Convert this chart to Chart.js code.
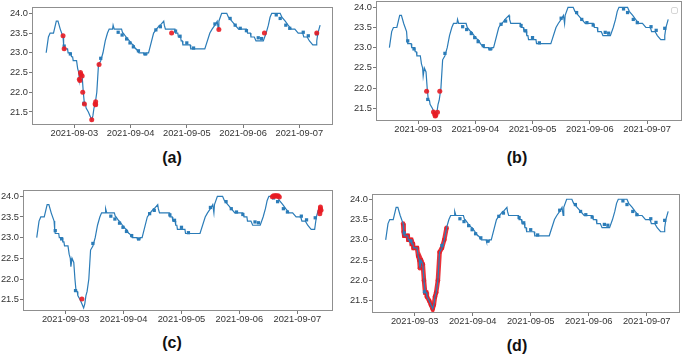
<!DOCTYPE html>
<html>
<head>
<meta charset="utf-8">
<script src="https://cdn.jsdelivr.net/npm/chart.js@4.4.1/dist/chart.umd.min.js"></script>
<style>
  body { margin: 0; background: #fff; width: 685px; height: 354px; overflow: hidden; position: relative; }
  canvas { position: absolute; }
  .cap { position: absolute; font-family: "Liberation Sans", Arial, sans-serif; font-weight: bold; font-size: 16px; color: #111; transform: translate(-50%, -50%); white-space: nowrap; }
</style>
</head>
<body>
<script>
// time in days of September 2021, temperature readings
const timeDays = [
  2.50, 2.54, 2.57, 2.63, 2.68, 2.71, 2.75, 2.80, 2.81, 2.82, 2.88, 2.89, 2.94, 2.95, 2.97, 2.98, 3.04,
  3.06, 3.08, 3.09, 3.11, 3.14, 3.16, 3.18, 3.20, 3.21, 3.25, 3.28, 3.31, 3.33, 3.35, 3.37, 3.40,
  3.43, 3.47, 3.51, 3.55, 3.59, 3.62, 3.68, 3.69, 3.71, 3.84, 3.86, 3.87, 3.92, 3.93, 3.98, 3.99,
  4.04, 4.05, 4.09, 4.10, 4.15, 4.16, 4.23, 4.24, 4.28, 4.29, 4.32, 4.41, 4.46, 4.47, 4.52, 4.53,
  4.59, 4.60, 4.62, 4.65, 4.79, 4.80, 4.84, 4.85, 4.89, 4.90, 4.92, 4.93, 5.06, 5.07, 5.32, 5.41,
  5.45, 5.50, 5.54, 5.56, 5.57, 5.62, 5.71, 5.74, 5.80, 5.86, 5.92, 6.06, 6.08, 6.13, 6.14, 6.20,
  6.23, 6.36, 6.41, 6.45, 6.48, 6.51, 6.66, 6.69, 6.75, 6.80, 6.86, 6.92, 6.98, 7.06, 7.08, 7.14,
  7.18, 7.24, 7.30, 7.31, 7.33, 7.37
];
const temperature = [
  23.0, 23.4, 23.5, 23.5, 23.8, 23.8, 23.6, 23.4, 23.2, 23.1, 23.1, 23.0, 23.0, 22.9, 22.9, 22.8, 22.8,
  22.6, 22.5, 22.3, 22.5, 22.4, 22.0, 21.7, 21.7, 21.6, 21.5, 21.4, 21.3, 21.4, 21.6, 21.7, 22.0,
  22.7, 22.8, 23.0, 23.3, 23.5, 23.6, 23.6, 23.7, 23.6, 23.6, 23.5, 23.5, 23.4, 23.4, 23.3, 23.3,
  23.2, 23.2, 23.1, 23.1, 23.0, 23.0, 23.0, 22.95, 22.95, 23.0, 23.0, 23.5, 23.6, 23.6, 23.7, 23.7,
  23.8, 23.7, 23.6, 23.6, 23.6, 23.5, 23.5, 23.4, 23.4, 23.3, 23.3, 23.2, 23.2, 23.1, 23.1, 23.5,
  23.6, 23.7, 23.8, 23.6, 23.8, 24.0, 24.0, 23.9, 23.8, 23.7, 23.6, 23.6, 23.5, 23.5, 23.4, 23.4,
  23.3, 23.3, 23.5, 23.7, 23.9, 24.0, 24.0, 23.9, 23.8, 23.7, 23.6, 23.6, 23.5, 23.5, 23.4, 23.4,
  23.3, 23.2, 23.2, 23.3, 23.5, 23.7
];
// places where the reading flickers between two levels (drawn as small blocks)
const flickerTime = [2.82, 2.93, 3.17, 3.47, 3.78, 3.85, 3.93, 3.99, 4.05, 4.14, 4.26, 4.45, 4.53,
  4.80, 4.88, 5.00, 5.12, 5.50, 5.77, 5.86, 5.95, 6.06, 6.27, 6.33, 6.59, 6.66, 6.76, 6.83, 7.07, 7.16, 7.31];
const flickerTemp = [23.17, 22.97, 21.72, 22.86, 23.52, 23.45, 23.35, 23.25, 23.15, 23.05, 22.97, 23.58, 23.66,
  23.55, 23.42, 23.25, 23.12, 23.73, 23.87, 23.70, 23.62, 23.56, 23.38, 23.36, 23.96, 23.87, 23.70, 23.62, 23.52, 23.43, 23.48];

// detected points, panel (a)
const markATime = [2.80, 2.82, 3.09, 3.10, 3.11, 3.12, 3.14, 3.15, 3.18, 3.31, 3.37, 3.38, 3.38, 3.44, 4.73, 5.57, 6.38, 7.31];
const markATemp = [23.43, 23.10, 22.33, 22.30, 22.50, 22.45, 22.41, 22.0, 21.70, 21.30, 21.70, 21.76, 21.68, 22.70, 23.50, 23.59, 23.50, 23.50];
// panel (b)
const markBTime = [3.15, 3.27, 3.29, 3.30, 3.31, 3.34, 3.38];
const markBTemp = [21.92, 21.41, 21.36, 21.31, 21.33, 21.40, 21.92];
// panel (c)
const markCTime = [3.28, 6.57, 6.59, 6.61, 6.63, 6.65, 6.67, 6.69, 7.39, 7.39, 7.40, 7.40, 7.41];
const markCTemp = [21.52, 23.99, 24.01, 24.0, 24.02, 24.0, 24.01, 23.98, 23.58, 23.64, 23.70, 23.74, 23.66];
// panel (d): a continuous stretch of the series
const segmentD = [2.79, 3.57];

const xTickValues = [3, 4, 5, 6, 7];
const xTickLabels = ["2021-09-03", "2021-09-04", "2021-09-05", "2021-09-06", "2021-09-07"];
const yTickValues = [21.5, 22.0, 22.5, 23.0, 23.5, 24.0];

const panels = [
  { cap: "(a)", frame: [32, 7, 333, 125], x: [2.248, 7.599], y: [21.17, 24.16], capPos: [172, 158], marks: [markATime, markATemp] },
  { cap: "(b)", frame: [376, 1, 682, 121], x: [2.266, 7.611], y: [21.186, 24.156], capPos: [517, 158], marks: [markBTime, markBTemp], legendBox: true },
  { cap: "(c)", frame: [23, 190, 333, 311], x: [2.263, 7.617], y: [21.227, 24.152], capPos: [172, 343], marks: [markCTime, markCTemp] },
  { cap: "(d)", frame: [372, 194, 680, 313], x: [2.264, 7.574], y: [21.197, 24.13], capPos: [517, 346], segment: segmentD }
];

const YW = 30, XH = 22, PT = 8, PR = 8;
const tickFont = { family: "'Liberation Sans', Arial, sans-serif", size: 9.3 };
const blue = "#2b7cb8";
const red = "rgba(232, 28, 36, 0.9)";

const framePlugin = {
  id: "frame",
  afterDatasetsDraw(chart, args, opts) {
    const a = chart.chartArea, ctx = chart.ctx;
    ctx.save();
    ctx.strokeStyle = "#8f8f8f";
    ctx.lineWidth = 1;
    ctx.strokeRect(Math.round(a.left) + 0.5, Math.round(a.top) + 0.5,
      Math.round(a.right - a.left) - 1, Math.round(a.bottom - a.top) - 1);
    if (opts.legendBox) {
      ctx.strokeStyle = "#d6d6d6";
      ctx.fillStyle = "#fff";
      ctx.beginPath();
      ctx.roundRect(a.right - 10.5, a.top + 6.5, 6, 6, 1.5);
      ctx.fill();
      ctx.stroke();
    }
    ctx.restore();
  }
};

function pts(xs, ys) {
  return xs.map((x, i) => ({ x: x, y: ys[i] }));
}

panels.forEach(p => {
  const [L, T, R, B] = p.frame;
  const cv = document.createElement("canvas");
  cv.width = R - L + YW + PR;
  cv.height = B - T + PT + XH;
  cv.style.left = (L - YW) + "px";
  cv.style.top = (T - PT) + "px";
  document.body.appendChild(cv);

  const cap = document.createElement("div");
  cap.className = "cap";
  cap.textContent = p.cap;
  cap.style.left = p.capPos[0] + "px";
  cap.style.top = p.capPos[1] + "px";
  document.body.appendChild(cap);

  const series = pts(timeDays, temperature);
  const datasets = [];
  if (p.marks) {
    datasets.push({
      data: pts(p.marks[0], p.marks[1]),
      showLine: false,
      pointRadius: 2.5,
      pointBackgroundColor: red,
      pointBorderWidth: 0
    });
  }
  datasets.push({
    data: series,
    borderColor: blue,
    borderWidth: 1.2,
    pointRadius: 0,
    tension: 0
  });
  datasets.push({
    data: pts(flickerTime, flickerTemp),
    showLine: false,
    pointStyle: "rect",
    pointRadius: 2.3,
    pointBackgroundColor: blue,
    pointBorderWidth: 0
  });
  if (p.segment) {
    datasets.push({
      data: series.filter(d => d.x >= p.segment[0] && d.x <= p.segment[1]),
      borderColor: red,
      borderWidth: 4.5,
      pointRadius: 2.3,
      pointBackgroundColor: red,
      pointBorderWidth: 0
    });
  }

  new Chart(cv, {
    type: "line",
    data: { datasets: datasets },
    plugins: [framePlugin],
    options: {
      responsive: false,
      animation: false,
      layout: { padding: { top: PT, right: PR, left: 0, bottom: 0 } },
      plugins: {
        legend: { display: false },
        tooltip: { enabled: false },
        frame: { legendBox: !!p.legendBox }
      },
      scales: {
        x: {
          type: "linear",
          min: p.x[0],
          max: p.x[1],
          afterBuildTicks: s => { s.ticks = xTickValues.map(v => ({ value: v })); },
          afterFit: s => { s.height = XH; },
          grid: { drawOnChartArea: false, drawTicks: true, tickLength: 3, color: "#777" },
          border: { display: false },
          ticks: {
            font: tickFont,
            color: "#333",
            padding: 0,
            maxRotation: 0,
            autoSkip: false,
            callback: v => xTickLabels[xTickValues.indexOf(v)]
          }
        },
        y: {
          min: p.y[0],
          max: p.y[1],
          afterBuildTicks: s => { s.ticks = yTickValues.map(v => ({ value: v })); },
          afterFit: s => { s.width = YW; },
          grid: { drawOnChartArea: false, drawTicks: true, tickLength: 3, color: "#777" },
          border: { display: false },
          ticks: {
            font: tickFont,
            color: "#333",
            padding: 1,
            autoSkip: false,
            callback: v => v.toFixed(1)
          }
        }
      }
    }
  });
});
</script>
</body>
</html>
